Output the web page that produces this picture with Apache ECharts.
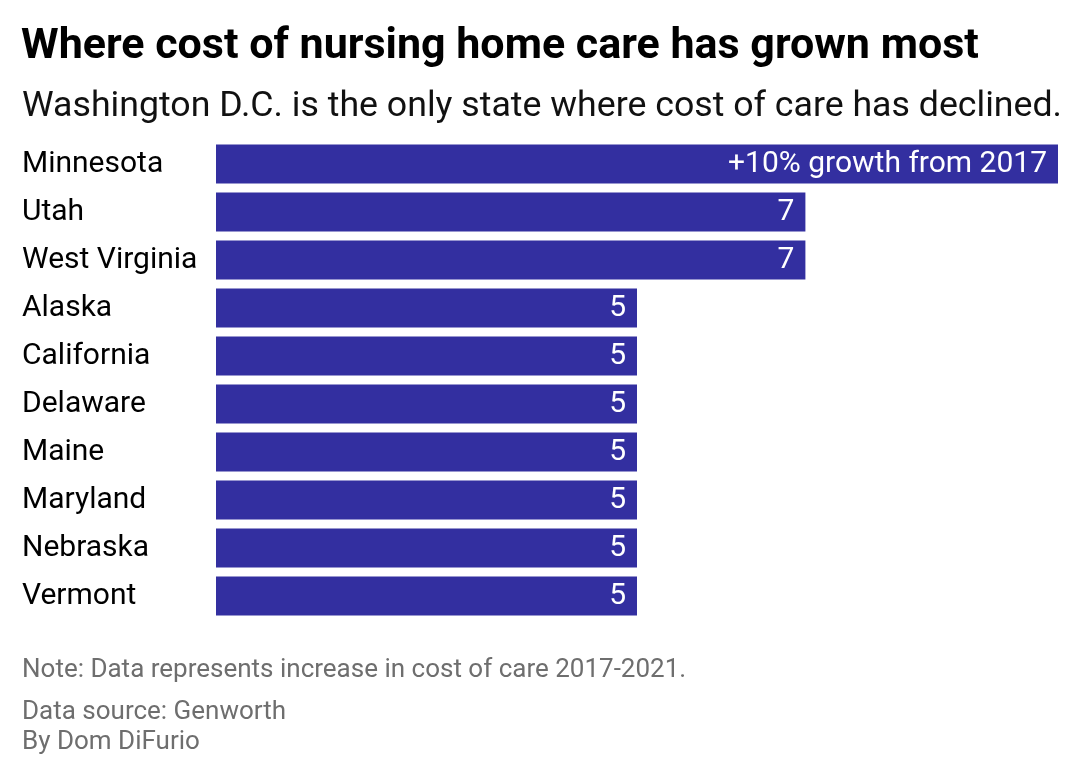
<!DOCTYPE html>
<html>
<head>
<meta charset="utf-8">
<script src="https://cdn.jsdelivr.net/npm/echarts@6/dist/echarts.min.js"></script>
<style>
  html, body { margin: 0; padding: 0; background: #fff; }
  #box { width: 1080px; height: 776px; }
</style>
</head>
<body>
<div id="box"></div>
<script>
var states = ['Minnesota', 'Utah', 'West Virginia', 'Alaska', 'California', 'Delaware', 'Maine', 'Maryland', 'Nebraska', 'Vermont'];
var growth = [10, 7, 7, 5, 5, 5, 5, 5, 5, 5];

var myChart = echarts.init(document.getElementById('box'));
var font = 'Roboto';
var option = {
    backgroundColor: '#ffffff',
    animation: false,
    title: [
        {
            text: 'Where cost of nursing home care has grown most',
            left: 21,
            top: 26,
            padding: 0,
            textStyle: { fontFamily: font, fontSize: 43, fontWeight: 'bold', color: '#000' }
        },
        {
            text: 'Washington D.C. is the only state where cost of care has declined.',
            left: 22,
            top: 89,
            padding: 0,
            textStyle: { fontFamily: font, fontSize: 35.7, fontWeight: 'normal', color: '#111' }
        },
        {
            text: 'Note: Data represents increase in cost of care 2017-2021.',
            left: 22,
            top: 657,
            padding: 0,
            textStyle: { fontFamily: font, fontSize: 26, fontWeight: 'normal', color: '#6e6e6e' }
        },
        {
            text: 'Data source: Genworth\nBy Dom DiFurio',
            left: 22,
            top: 697,
            padding: 0,
            textStyle: { fontFamily: font, fontSize: 26, fontWeight: 'normal', color: '#6e6e6e', lineHeight: 30 }
        }
    ],
    grid: { left: 216, right: 22, top: 140, bottom: 156 },
    xAxis: {
        type: 'value',
        min: 0,
        max: 10,
        show: false
    },
    yAxis: {
        type: 'category',
        inverse: true,
        data: states,
        axisLine: { show: false },
        axisTick: { show: false },
        axisLabel: {
            align: 'left',
            margin: 194,
            fontFamily: font,
            fontSize: 30,
            color: '#000'
        }
    },
    series: [
        {
            type: 'bar',
            data: growth,
            barCategoryGap: '19%',
            itemStyle: { color: '#332FA0' },
            label: {
                show: true,
                position: 'insideRight',
                distance: 11,
                fontFamily: font,
                fontSize: 30,
                color: '#fff',
                formatter: function (p) {
                    return p.dataIndex === 0 ? '+' + p.value + '% growth from 2017' : p.value;
                }
            }
        }
    ]
};
myChart.setOption(option);
</script>
</body>
</html>
